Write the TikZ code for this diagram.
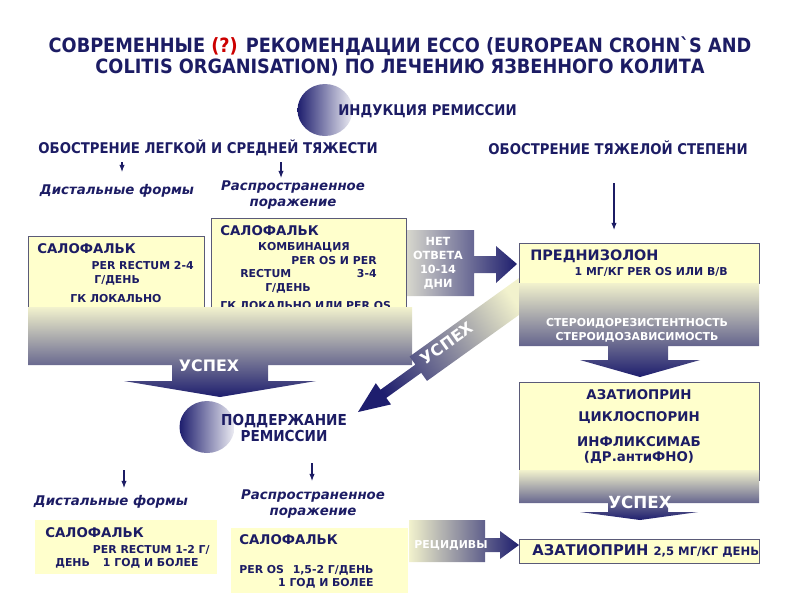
\documentclass[tikz,border=0pt]{standalone}
\usepackage{fontspec}
\setmainfont{DejaVu Sans}
\newfontfamily\condfont{DejaVu Sans Condensed}
\usetikzlibrary{fit,arrows.meta,shapes.geometric}

\definecolor{ink}{RGB}{28,28,100}
\definecolor{navy}{RGB}{30,30,110}
\definecolor{paleyel}{RGB}{255,255,204}
\definecolor{boxline}{RGB}{90,90,120}
\definecolor{fadeyel}{RGB}{242,242,205}
\definecolor{fadegray}{RGB}{215,215,205}
\definecolor{redq}{RGB}{204,0,0}

\begin{document}
\begin{tikzpicture}[x=0.02cm,y=-0.02cm,
    ttl/.style={font=\condfont\bfseries\fontsize{11.2}{12}\selectfont, text=ink, align=center},
    hdr/.style={font=\condfont\bfseries\fontsize{8.4}{10}\selectfont, text=ink},
    subhdr/.style={font=\bfseries\itshape\fontsize{7.6}{9.2}\selectfont, text=ink, align=center},
    box/.style={draw=boxline, fill=paleyel, inner sep=0pt},
    plainbox/.style={fill=paleyel, inner sep=0pt},
    drug/.style={font=\bfseries\fontsize{7.6}{9}\selectfont, text=ink, inner sep=0pt, align=center},
    dose/.style={font=\bfseries\fontsize{6.2}{8}\selectfont, text=ink, inner sep=0pt},
    lbl/.style={font=\bfseries\fontsize{6.2}{8}\selectfont, text=white, align=center, inner sep=0pt},
    oklbl/.style={font=\bfseries\fontsize{9}{10}\selectfont, text=white, inner sep=0pt},
    thinarr/.style={draw=ink, line width=0.6pt, -{Latex[length=4pt,width=3pt]}},
    fadedown/.style={top color=fadeyel, bottom color=navy},
    sphere/.style={ellipse, left color=navy, right color=white!92!navy, minimum width=1.1cm, minimum height=1.04cm},
  ]
    \useasboundingbox (0,0) rectangle (800,600);

    % title
    \node[ttl] (title) at (400,56) {СОВРЕМЕННЫЕ {\color{redq}(?)} РЕКОМЕНДАЦИИ ECCO (EUROPEAN CROHN`S AND\\COLITIS ORGANISATION) ПО ЛЕЧЕНИЮ ЯЗВЕННОГО КОЛИТА};

    % induction
    \node[sphere] (ind) at (325,110) {};
    \node[hdr, anchor=west, inner sep=0pt] (indtxt) at (338,111) {ИНДУКЦИЯ РЕМИССИИ};
    \node[hdr] (mild) at (208,148) {ОБОСТРЕНИЕ ЛЕГКОЙ И СРЕДНЕЙ ТЯЖЕСТИ};
    \node[hdr] (severe) at (618,148) {ОБОСТРЕНИЕ ТЯЖЕЛОЙ СТЕПЕНИ};

    \node[subhdr] (distal1) at (117,191) {Дистальные формы};
    \node[subhdr] (wide1) at (293,195) {Распространенное\\поражение};

    \coordinate (a1) at (122,172);
    \coordinate (a2) at (281,178);
    \coordinate (a3s) at (614,183);
    \coordinate (a3) at (614,230);
    \draw[thinarr] (mild.south -| a1) -- (a1);
    \draw[thinarr] (mild.south -| a2) -- (a2);
    \draw[thinarr] (a3s) -- (a3);

    % mild / moderate
    \node[box, fit={(28,236) (204,330)}] (salo1) {};
    \node[drug, anchor=west] (s1name) at (37,249) {САЛОФАЛЬК};
    \node[dose, anchor=east] (s1dose) at (194,266) {PER RECTUM 2-4};
    \node[dose, anchor=west] (s1day) at (94,280) {Г/ДЕНЬ};
    \node[dose] (s1gk) at (116,299) {ГК ЛОКАЛЬНО};

    \node[box, fit={(211,218) (406,330)}] (salo2) {};
    \node[drug, anchor=west] (s2name) at (220,231) {САЛОФАЛЬК};
    \node[dose] (s2comb) at (304,247) {КОМБИНАЦИЯ};
    \node[dose, anchor=east] (s2a) at (377,261) {PER OS И PER};
    \node[dose, anchor=west] (s2b) at (240,274) {RECTUM};
    \node[dose, anchor=east] (s2c) at (377,274) {3-4};
    \node[dose] (s2d) at (288,288) {Г/ДЕНЬ};
    \node[dose, anchor=west] (s2gk) at (220,306) {ГК ЛОКАЛЬНО ИЛИ PER OS};

    \path[fadedown] (28,307) -- (412,307) -- (412,365) -- (268,365) -- (268,381) -- (316,381)
        -- (220,397) -- (124,381) -- (172,381) -- (172,365) -- (28,365) -- cycle;
    \node[oklbl] (ok1) at (209,366) {УСПЕХ};

    % no response
    \path[left color=fadegray, right color=navy] (407,230) -- (474,230) -- (474,256) -- (496,256)
        -- (496,246) -- (517,264) -- (496,283) -- (496,273) -- (474,273) -- (474,296) -- (407,296) -- cycle;
    \node[lbl, font=\bfseries\fontsize{6.4}{8}\selectfont] (noresp) at (438,263) {НЕТ\\ОТВЕТА\\10-14\\ДНИ};

    % diagonal success
    \path[top color=fadeyel, bottom color=navy, shading angle=-54.5] (519.3,277.8) -- (409.6,356.5)
        -- (415.4,364.6) -- (380.5,389.7) -- (375.8,383.2) -- (358,412) -- (391.0,404.4)
        -- (386.3,397.9) -- (421.2,372.8) -- (427.0,380.9) -- (536.7,302.2) -- cycle;
    \node[oklbl, rotate=35.5] (ok2) at (447,343) {УСПЕХ};

    % severe
    \node[box, fit={(519,243) (759,283)}] (pred) {};
    \node[drug, anchor=west, font=\bfseries\fontsize{8.2}{9}\selectfont] (predname) at (530,256) {ПРЕДНИЗОЛОН};
    \node[dose, anchor=east] (preddose) at (728,272) {1 МГ/КГ PER OS ИЛИ В/В};

    \path[fadedown] (519,283) -- (759,283) -- (759,346) -- (668,346) -- (668,360) -- (700,360)
        -- (640,377) -- (580,360) -- (608,360) -- (608,346) -- (519,346) -- cycle;
    \node[lbl] (steroid) at (637,330) {СТЕРОИДОРЕЗИСТЕНТНОСТЬ\\СТЕРОИДОЗАВИСИМОСТЬ};

    \node[box, fit={(519,382) (759,480)}] (alt) {};
    \node[drug] (aza1) at (639,395) {АЗАТИОПРИН};
    \node[drug] (cyclo) at (639,418) {ЦИКЛОСПОРИН};
    \node[drug] (infl) at (639,450) {ИНФЛИКСИМАБ\\(ДР.антиФНО)};

    \path[fadedown] (519,470) -- (759,470) -- (759,503) -- (668,503) -- (668,512) -- (698,512)
        -- (640,520) -- (580,512) -- (608,512) -- (608,503) -- (519,503) -- cycle;
    \node[oklbl, font=\bfseries\fontsize{9.5}{10}\selectfont] (ok3) at (640,502) {УСПЕХ};

    % maintenance
    \node[sphere] (maint) at (207,427) {};
    \node[hdr, align=center, font=\condfont\bfseries\fontsize{8.6}{9}\selectfont] (mainttxt) at (284,428) {ПОДДЕРЖАНИЕ\\РЕМИССИИ};

    \node[subhdr] (distal2) at (111,502) {Дистальные формы};
    \node[subhdr] (wide2) at (313,504) {Распространенное\\поражение};

    \coordinate (b1s) at (124,470);
    \coordinate (b1) at (124,488);
    \coordinate (b2s) at (312,463);
    \coordinate (b2) at (312,481);
    \draw[thinarr] (b1s) -- (b1);
    \draw[thinarr] (b2s) -- (b2);

    \node[plainbox, fit={(35,520) (217,574)}] (salo3) {};
    \node[drug, anchor=west] (s3name) at (45,533) {САЛОФАЛЬК};
    \node[dose, anchor=east] (s3dose) at (210,550) {PER RECTUM 1-2 Г/};
    \node[dose, anchor=west] (s3day) at (55,563) {ДЕНЬ\hspace{1.2em}1 ГОД И БОЛЕЕ};

    \node[plainbox, fit={(231,528) (408,593)}] (salo4) {};
    \node[drug, anchor=west] (s4name) at (239,540) {САЛОФАЛЬК};
    \node[dose, anchor=west] (s4dose) at (239,570) {PER OS\hspace{0.8em}1,5-2 Г/ДЕНЬ};
    \node[dose, anchor=east] (s4year) at (374,583) {1 ГОД И БОЛЕЕ};

    % relapse
    \path[left color=fadeyel, right color=navy] (409,520) -- (485,520) -- (485,538) -- (500,538)
        -- (500,531) -- (519,545) -- (500,559) -- (500,552) -- (485,552) -- (485,562) -- (409,562) -- cycle;
    \node[lbl] (relapse) at (451,545) {РЕЦИДИВЫ};

    \node[box, fit={(519,539) (759,563)}] (aza) {};
    \node[drug, anchor=west, font=\bfseries\fontsize{8.4}{9}\selectfont] (azatxt) at (532,551) {АЗАТИОПРИН {\fontsize{6.6}{8}\selectfont 2,5 МГ/КГ ДЕНЬ}};

\end{tikzpicture}
\end{document}
